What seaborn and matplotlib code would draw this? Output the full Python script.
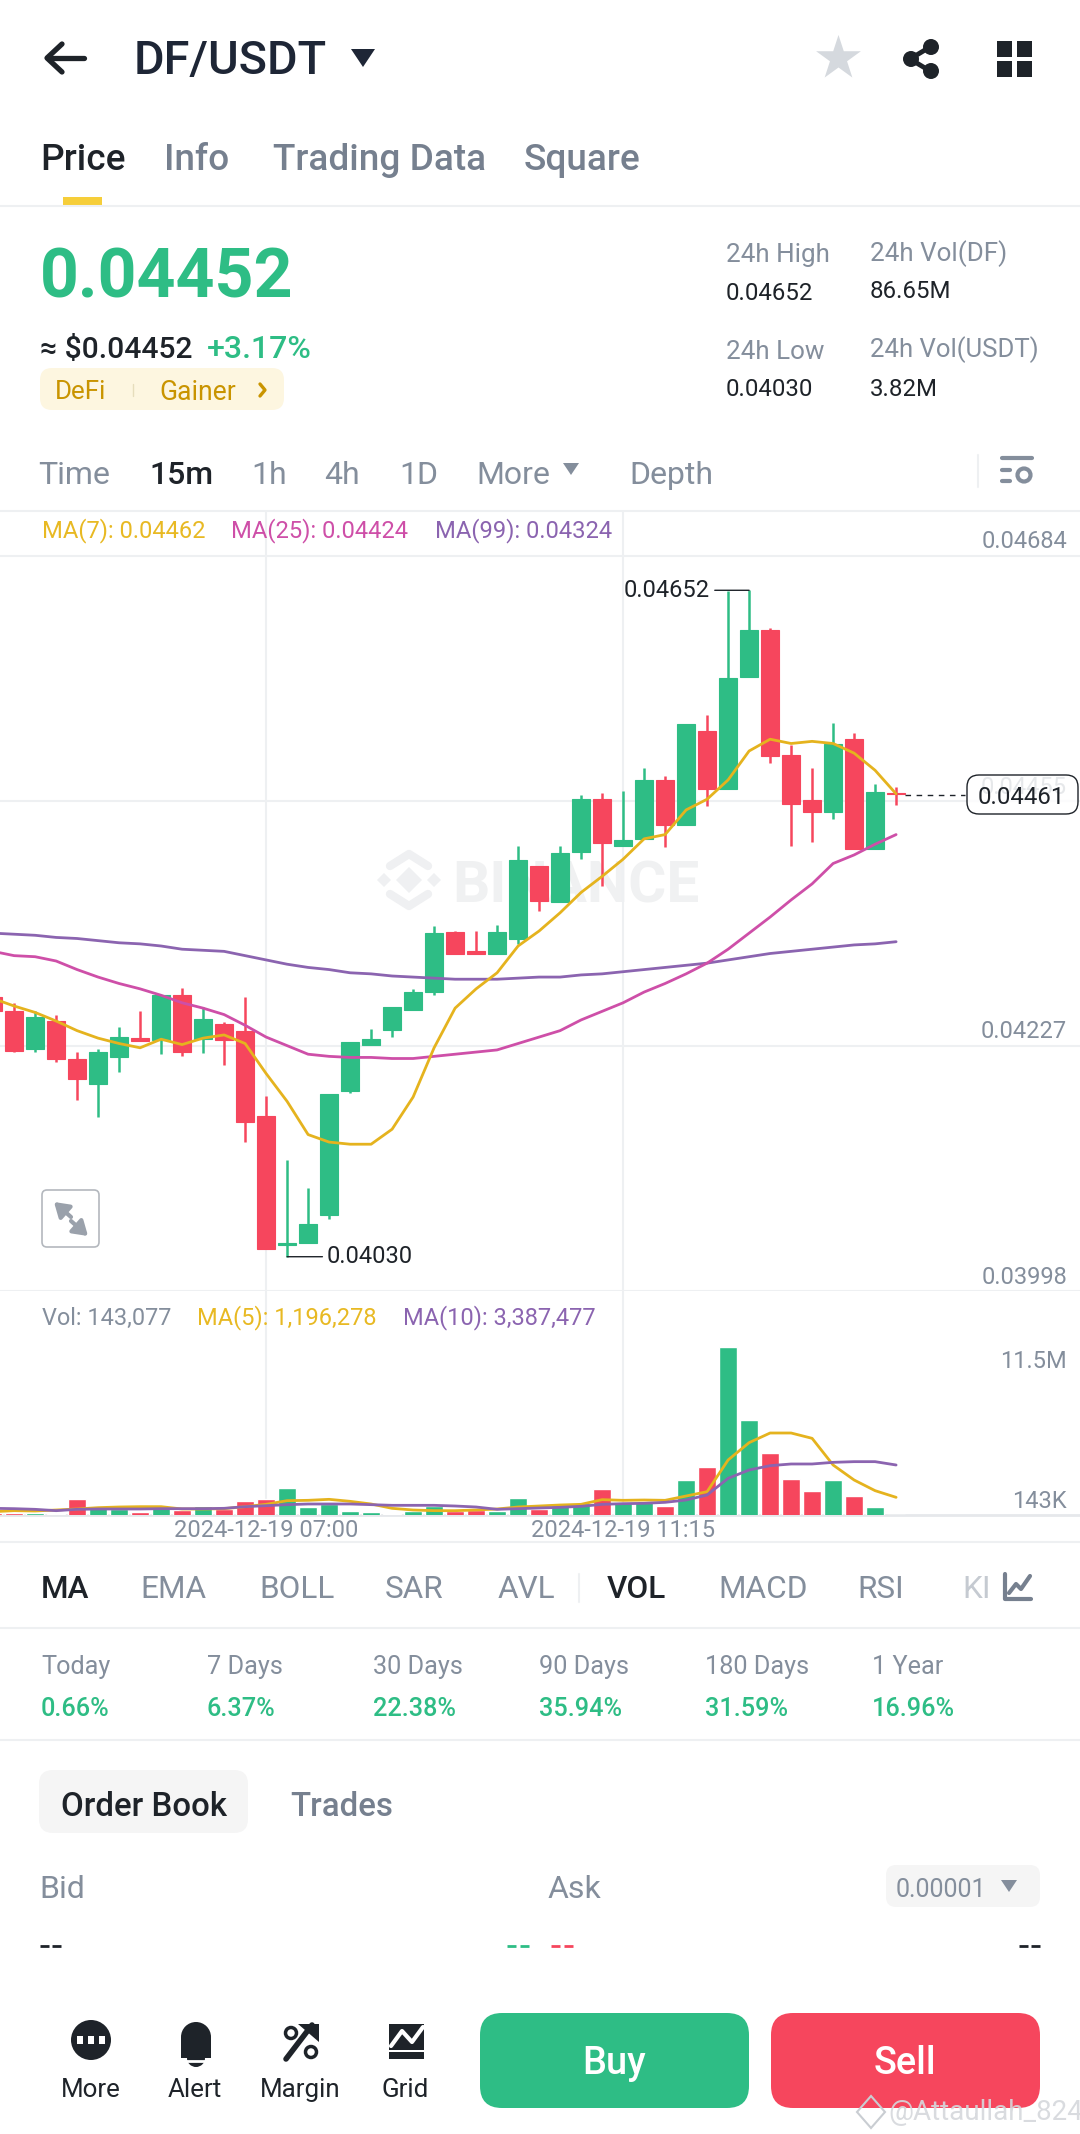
import numpy as np
import pandas as pd
import matplotlib
matplotlib.use("Agg")
import matplotlib.pyplot as plt
from matplotlib.patches import FancyBboxPatch, Polygon, Circle, Rectangle
import seaborn as sns

sns.set_theme(style="white")
plt.rcParams['font.family'] = ['Roboto', 'DejaVu Sans']

# candles, 15m bars, the first one is cut off by the left edge
bars = list(range(-1, 43))
opens = [0.04272, 0.04259, 0.04224, 0.04250, 0.04215, 0.04191, 0.04216, 0.04234, 0.04232, 0.04274, 0.04233,
         0.04247, 0.04241, 0.04161, 0.04041, 0.04043, 0.04069, 0.04185, 0.04228, 0.04242, 0.04260, 0.04277,
         0.04333, 0.04315, 0.04313, 0.04327, 0.04395, 0.04361, 0.04408, 0.04457, 0.04413, 0.04420, 0.04475,
         0.04433, 0.04521, 0.04467, 0.04571, 0.04615, 0.04498, 0.04456, 0.04445, 0.04513, 0.04411, 0.04463]
closes = [0.04259, 0.04222, 0.04254, 0.04215, 0.04196, 0.04221, 0.04235, 0.04231, 0.04274, 0.04221, 0.04252,
          0.04232, 0.04156, 0.04037, 0.04043, 0.04061, 0.04182, 0.04230, 0.04233, 0.04263, 0.04277, 0.04332,
          0.04313, 0.04313, 0.04333, 0.04400, 0.04362, 0.04407, 0.04457, 0.04416, 0.04419, 0.04475, 0.04433,
          0.04527, 0.04467, 0.04570, 0.04615, 0.04497, 0.04453, 0.04445, 0.04509, 0.04411, 0.04464, 0.04462]
highs = [0.04272, 0.04267, 0.04259, 0.04256, 0.04221, 0.04224, 0.04244, 0.04259, 0.04274, 0.04281, 0.04263,
         0.04249, 0.04272, 0.04180, 0.04120, 0.04094, 0.04182, 0.04230, 0.04243, 0.04263, 0.04280, 0.04339,
         0.04334, 0.04334, 0.04340, 0.04413, 0.04395, 0.04413, 0.04461, 0.04463, 0.04465, 0.04486, 0.04479,
         0.04527, 0.04536, 0.04651, 0.04652, 0.04617, 0.04508, 0.04486, 0.04528, 0.04519, 0.04471, 0.04468]
lows = [0.04259, 0.04221, 0.04221, 0.04212, 0.04176, 0.04160, 0.04202, 0.04231, 0.04219, 0.04217, 0.04220,
        0.04209, 0.04137, 0.04037, 0.04030, 0.04043, 0.04065, 0.04183, 0.04228, 0.04235, 0.04260, 0.04274,
        0.04313, 0.04313, 0.04313, 0.04322, 0.04353, 0.04361, 0.04401, 0.04376, 0.04413, 0.04420, 0.04412,
        0.04433, 0.04451, 0.04467, 0.04571, 0.04491, 0.04413, 0.04417, 0.04439, 0.04411, 0.04411, 0.04452]

ma7 = [0.04271, 0.04264, 0.04258, 0.04250, 0.04241, 0.04234, 0.04229, 0.04225, 0.04233, 0.04228, 0.04234,
       0.04237, 0.04229, 0.04201, 0.04175, 0.04144, 0.04137, 0.04135, 0.04135, 0.04149, 0.04179, 0.04225,
       0.04262, 0.04280, 0.04295, 0.04320, 0.04334, 0.04351, 0.04370, 0.04385, 0.04401, 0.04420, 0.04424,
       0.04447, 0.04457, 0.04475, 0.04502, 0.04513, 0.04509, 0.04511, 0.04509, 0.04500, 0.04484, 0.04462]
ma25 = [0.04315, 0.04311, 0.04310, 0.04306, 0.04298, 0.04291, 0.04285, 0.04280, 0.04274, 0.04267, 0.04262,
        0.04256, 0.04246, 0.04235, 0.04227, 0.04219, 0.04217, 0.04216, 0.04216, 0.04215, 0.04215, 0.04217,
        0.04219, 0.04221, 0.04223, 0.04229, 0.04235, 0.04241, 0.04251, 0.04259, 0.04267, 0.04277, 0.04285,
        0.04294, 0.04304, 0.04317, 0.04332, 0.04347, 0.04363, 0.04378, 0.04397, 0.04405, 0.04415, 0.04424]
ma99 = [0.04332, 0.04331, 0.04330, 0.04328, 0.04327, 0.04325, 0.04323, 0.04322, 0.04320, 0.04317, 0.04316,
        0.04315, 0.04311, 0.04307, 0.04303, 0.04300, 0.04298, 0.04295, 0.04294, 0.04292, 0.04291, 0.04290,
        0.04289, 0.04289, 0.04289, 0.04290, 0.04291, 0.04291, 0.04293, 0.04294, 0.04296, 0.04298, 0.04300,
        0.04302, 0.04304, 0.04307, 0.04310, 0.04313, 0.04315, 0.04317, 0.04319, 0.04321, 0.04322, 0.04324]

volume = [255000, 256000, 301000, 188000, 1225000, 751000, 526000, 368000, 594000, 481000, 751000,
          526000, 1089000, 1247000, 1946000, 706000, 887000, 391000, 346000, 188000, 391000, 751000,
          436000, 481000, 391000, 1292000, 571000, 842000, 932000, 1923000, 932000, 1022000, 751000,
          2487000, 3388000, 11500000, 6565000, 4312000, 2577000, 1788000, 2487000, 1427000, 661000, 143077]
vol_ma5 = [368000, 436000, 413000, 481000, 549000, 639000, 684000, 706000, 706000, 549000, 549000,
           571000, 706000, 864000, 1112000, 1135000, 1202000, 1067000, 887000, 594000, 481000, 436000,
           436000, 481000, 549000, 684000, 751000, 819000, 864000, 1180000, 1135000, 1157000, 1135000,
           1427000, 1720000, 3861000, 5033000, 5686000, 5686000, 5326000, 3523000, 2509000, 1788000, 1337000]
vol_ma10 = [594000, 571000, 526000, 436000, 526000, 549000, 549000, 549000, 571000, 571000, 571000,
            594000, 706000, 774000, 842000, 887000, 887000, 887000, 842000, 797000, 797000, 797000,
            751000, 684000, 526000, 571000, 616000, 661000, 729000, 864000, 909000, 932000, 999000,
            1157000, 1495000, 2622000, 3185000, 3478000, 3591000, 3591000, 3703000, 3749000, 3749000, 3523000]

price_ticks = [0.04684, 0.04455, 0.04227, 0.03998]
price_labels = ["0.04684", "0.04455", "0.04227", "0.03998"]
time_ticks = [12, 29]
time_labels = ["2024-12-19 07:00", "2024-12-19 11:15"]
return_periods = ["Today", "7 Days", "30 Days", "90 Days", "180 Days", "1 Year"]
return_values = ["0.66%", "6.37%", "22.38%", "35.94%", "31.59%", "16.96%"]
last_price = 0.04461

GREEN = "#2EBD85"
RED = "#F6465D"
DARK = "#1E2329"
GRAY = "#848E9C"
GRID = "#EEF0F2"
YEL = "#E8B923"
PINK = "#CE4FA8"
PURP = "#8B64B0"

W, H = 1080, 2134
fig = plt.figure(figsize=(W / 100, H / 100), dpi=100, facecolor="white")


def axes_px(top, bottom):
    return fig.add_axes([0, 1 - bottom / H, 1, (bottom - top) / H])


df = pd.DataFrame({"bar": bars, "open": opens, "close": closes, "high": highs, "low": lows,
                   "ma7": ma7, "ma25": ma25, "ma99": ma99,
                   "volume": volume, "vol_ma5": vol_ma5, "vol_ma10": vol_ma10})
df["dir"] = np.where(df["close"] >= df["open"], "up", "down")
colors = df["dir"].map({"up": GREEN, "down": RED})
xlim = (-0.671, 50.757)

# price panel
ax = axes_px(511, 1291)
ax.set_xlim(*xlim)
ax.set_ylim(0.03998, 0.04726)
ax.axis("off")
ax.text(0.419, 0.518, "BINANCE", transform=ax.transAxes, fontsize=42, fontweight="bold",
        color="#F0F1F2", ha="left", va="center", zorder=0.5)
for t, lab in zip(price_ticks, price_labels):
    ax.axhline(t, color=GRID, lw=1.5, zorder=1)
    ax.annotate(lab, xy=(1, t), xycoords=ax.get_yaxis_transform(), xytext=(-13, 14),
                textcoords="offset pixels", ha="right", va="center", fontsize=17,
                color=GRAY, annotation_clip=False, zorder=1)
for t in time_ticks:
    ax.axvline(t, color=GRID, lw=1.5, zorder=1)
ax.vlines(df["bar"], df["low"], df["high"], colors=colors, lw=1.8, zorder=3)
ax.bar(df["bar"], (df["close"] - df["open"]).abs(), bottom=df[["open", "close"]].min(axis=1),
       width=0.87, color=colors, edgecolor=colors, lw=0.8, zorder=3)
sns.lineplot(data=df, x="bar", y="ma99", color=PURP, lw=2, ax=ax, zorder=4)
sns.lineplot(data=df, x="bar", y="ma25", color=PINK, lw=2, ax=ax, zorder=4)
sns.lineplot(data=df, x="bar", y="ma7", color="#E5B31E", lw=2, ax=ax, zorder=4)
ax.set_xlim(*xlim)
ax.set_ylim(0.03998, 0.04726)
ax.axis("off")

# high / low markers and last price
ax.annotate("0.04652", xy=(35, max(highs)), xytext=(-39, 0), textcoords="offset pixels", ha="right",
            va="center", fontsize=17, color=DARK,
            arrowprops=dict(arrowstyle="-", color=DARK, lw=1, shrinkA=1, shrinkB=0), zorder=6)
ax.annotate("0.04030", xy=(13, min(lows)), xytext=(40, 0), textcoords="offset pixels", ha="left",
            va="center", fontsize=17, color=DARK,
            arrowprops=dict(arrowstyle="-", color=DARK, lw=1, shrinkA=1, shrinkB=0), zorder=6)
ax.hlines(last_price, 42.4, 45.3, colors=DARK, lw=1, linestyles=(0, (4, 4)), zorder=5)

# volume panel
axv = axes_px(1291, 1515)
sns.barplot(data=df, x="bar", y="volume", hue="dir", palette={"up": GREEN, "down": RED}, dodge=False,
            native_scale=True, width=0.87, legend=False, errorbar=None, saturation=1, ax=axv, zorder=3)
sns.lineplot(data=df, x="bar", y="vol_ma5", color="#E5B31E", lw=2, ax=axv, zorder=4)
sns.lineplot(data=df, x="bar", y="vol_ma10", color=PURP, lw=2, ax=axv, zorder=4)
axv.set_xlim(*xlim)
axv.set_ylim(143077, 15285000)
axv.set_xlabel("")
axv.set_ylabel("")
axv.set_yticks([])
axv.set_xticks(time_ticks, time_labels)
axv.tick_params(axis="x", length=0, pad=3, labelsize=17, labelcolor=GRAY)
for s in ["top", "left", "right"]:
    axv.spines[s].set_visible(False)
axv.spines["bottom"].set_color("#E6E8EB")
axv.spines["bottom"].set_linewidth(2)
axv.grid(axis="x", color=GRID, lw=1.5)
axv.set_axisbelow(True)
axv.patch.set_alpha(0)
axv.annotate("11.5M", xy=(1, 11500000), xycoords=axv.get_yaxis_transform(), xytext=(-13, -15),
             textcoords="offset pixels", ha="right", va="center", fontsize=17, color=GRAY)
axv.annotate("143K", xy=(1, 143077), xycoords=axv.get_yaxis_transform(), xytext=(-13, 14),
             textcoords="offset pixels", ha="right", va="center", fontsize=17, color=GRAY)

# everything around the chart, in screen pixels
ui = fig.add_axes([0, 0, 1, 1], zorder=10)
ui.set_xlim(0, W)
ui.set_ylim(H, 0)
ui.axis("off")
ui.patch.set_alpha(0)


def label(x, y, s, px, color=GRAY, weight="normal", ha="left"):
    ui.text(x - 1, y + 2, s, fontsize=px * 0.72, color=color, fontweight=weight, ha=ha, va="center")


def pill(x0, y0, x1, y1, fc, r=10, ec="none", lw=0):
    ui.add_patch(FancyBboxPatch((x0 + r, y0 + r), x1 - x0 - 2 * r, y1 - y0 - 2 * r,
                                boxstyle=f"round,pad={r},rounding_size={r}", fc=fc, ec=ec, lw=lw))


def caret(cx, cy, w, h, color):
    ui.add_patch(Polygon([(cx - w / 2, cy - h / 2), (cx + w / 2, cy - h / 2), (cx, cy + h / 2)], fc=color, ec="none"))


def hline(y, x0=0, x1=W, color=GRID, lw=1.5):
    ui.plot([x0, x1], [y, y], color=color, lw=lw, solid_capstyle="butt")


# header
ui.plot([50, 84], [58, 58], color=DARK, lw=3.8)
ui.plot([62, 47, 62], [44, 58, 72], color=DARK, lw=3.8)
label(135, 59, "DF/USDT", 47, "#1E2636", "medium")
caret(363, 58, 24, 18, "#1E2636")
ui.scatter([838], [58], marker="*", s=1150, color="#D5D9DE", lw=0)
ui.plot([930, 910, 930], [47, 59, 71], color=DARK, lw=3.5)
for cx, cy in [(931, 47), (911, 59), (931, 71)]:
    ui.add_patch(Circle((cx, cy), 8, fc=DARK, ec="none"))
for x0, y0 in [(997, 41), (1017, 41), (997, 61), (1017, 61)]:
    ui.add_patch(Rectangle((x0, y0), 15, 16, fc=DARK, ec="none"))

label(41, 158, "Price", 37, DARK, "medium")
label(165, 158, "Info", 37, "#76808F", "medium")
label(274, 158, "Trading Data", 37, "#76808F", "medium")
label(525, 158, "Square", 37, "#76808F", "medium")
ui.add_patch(Rectangle((63, 197), 39, 8, fc="#F6CE3A", ec="none"))
hline(206)

# price summary
label(41, 277, "0.04452", 68, GREEN, "bold")
label(41, 348, "≈ $0.04452", 30, DARK, "medium")
label(208, 348, "+3.17%", 32, GREEN, "medium")
pill(40, 368, 284, 410, "#FDF6E0", r=12)
label(56, 390, "DeFi", 26, "#C99400")
ui.plot([133, 133], [384, 396], color="#E6DDBC", lw=1)
label(160, 390, "Gainer", 26.5, "#C99400")
ui.plot([260, 265, 260], [384, 390, 396], color="#C99400", lw=2.4)
label(727, 253, "24h High", 26)
label(727, 291, "0.04652", 24, DARK)
label(871, 252, "24h Vol(DF)", 26)
label(871, 289, "86.65M", 24, DARK)
label(727, 350, "24h Low", 26)
label(727, 388, "0.04030", 24, DARK)
label(871, 348, "24h Vol(USDT)", 25.7)
label(871, 387, "3.82M", 24, DARK)

# interval row
for x, s in [(39, "Time"), (252, "1h"), (325, "4h"), (400, "1D"), (477, "More"), (630, "Depth")]:
    label(x, 473, s, 32)
label(150, 473, "15m", 32, DARK, "medium")
caret(571, 469, 16, 12, GRAY)
ui.plot([978, 978], [455, 487], color=GRID, lw=1.5)
ui.plot([1002, 1032], [458, 458], color=GRAY, lw=3)
ui.plot([1002, 1010], [470, 470], color=GRAY, lw=3)
ui.plot([1002, 1010], [481, 481], color=GRAY, lw=3)
ui.add_patch(Circle((1024, 475), 6.5, fc="white", ec=GRAY, lw=3))

hline(511)
label(43, 529, "MA(7): 0.04462", 23.7, YEL)
label(232, 529, "MA(25): 0.04424", 23.7, PINK)
label(436, 529, "MA(99): 0.04324", 23.7, PURP)

# last price tag, the axis label behind it shows through a little
pill(967, 775, 1078, 814, (1, 1, 1, 0.8), r=12, ec=DARK, lw=1)
label(1022, 795, "0.04461", 24, DARK, ha="center")

# watermark logo
for cx, cy, r in [(409, 880, 13), (384, 880, 7), (434, 880, 7)]:
    ui.add_patch(Polygon([(cx - r, cy), (cx, cy - r), (cx + r, cy), (cx, cy + r)], fc="#EFF0F2", ec="none", zorder=0))
ui.plot([390, 409, 428], [866, 854, 866], color="#EFF0F2", lw=6, zorder=0)
ui.plot([390, 409, 428], [894, 906, 894], color="#EFF0F2", lw=6, zorder=0)

# expand button
pill(42, 1190, 99, 1247, "white", r=5, ec="#B4B8BE", lw=1.2)
ui.annotate("", xy=(54, 1202), xytext=(71, 1217),
            arrowprops=dict(arrowstyle="-|>,head_length=0.7,head_width=0.45", color="#9AA1AB", lw=3, shrinkA=0, shrinkB=0))
ui.annotate("", xy=(88, 1236), xytext=(71, 1221),
            arrowprops=dict(arrowstyle="-|>,head_length=0.7,head_width=0.45", color="#9AA1AB", lw=3, shrinkA=0, shrinkB=0))

label(43, 1316, "Vol: 143,077", 23.5)
label(198, 1316, "MA(5): 1,196,278", 23.6, YEL)
label(404, 1316, "MA(10): 3,387,477", 23.6, PURP)

# indicator row
hline(1542)
for x, s in [(141, "EMA"), (260, "BOLL"), (386, "SAR"), (499, "AVL"), (719, "MACD"), (858, "RSI")]:
    label(x, 1588, s, 31.5)
label(963, 1588, "KI", 31.5, "#C5CAD1")
label(42, 1588, "MA", 31.5, DARK, "medium")
label(608, 1588, "VOL", 31.5, DARK, "medium")
ui.plot([579, 579], [1574, 1602], color=GRID, lw=1.5)
ui.plot([1005, 1005, 1031], [1574, 1599, 1599], color="#76808F", lw=3)
ui.plot([1009, 1016, 1021, 1030], [1593, 1584, 1589, 1576], color="#76808F", lw=3)
hline(1628)

# returns
for x, p, v in zip([42, 208, 374, 540, 706, 873], return_periods, return_values):
    label(x, 1665, p, 25.3)
    label(x, 1707, v, 25.3, GREEN, "medium")
hline(1740)

# order book
pill(39, 1770, 248, 1833, "#F5F5F5", r=14)
label(62, 1805, "Order Book", 33, DARK, "medium")
label(291, 1805, "Trades", 33, "#76808F", "medium")
label(40, 1888, "Bid", 32)
label(549, 1888, "Ask", 32)
pill(886, 1865, 1040, 1907, "#F5F5F5", r=10)
label(897, 1888, "0.00001", 25)
caret(1009, 1886, 16, 12, GRAY)
for x0, x1, c in [(40, 61, DARK), (507, 529, GREEN), (551, 573, RED), (1019, 1040, DARK)]:
    ui.plot([x0, x0 + (x1 - x0) * 0.42], [1946, 1946], color=c, lw=2, solid_capstyle="butt")
    ui.plot([x0 + (x1 - x0) * 0.58, x1], [1946, 1946], color=c, lw=2, solid_capstyle="butt")

# bottom bar
ui.add_patch(Circle((91, 2040), 20, fc=DARK, ec="none"))
for x in [80, 91, 102]:
    ui.add_patch(Rectangle((x - 3, 2036), 6, 8, fc="white", ec="none"))
ui.add_patch(Circle((196, 2037), 15, fc=DARK, ec="none"))
ui.add_patch(Rectangle((181, 2037), 30, 21, fc=DARK, ec="none"))
ui.add_patch(Circle((196, 2058), 9, fc=DARK, ec="none"))
ui.plot([180, 212], [2061, 2061], color="white", lw=2)
ui.plot([286, 312], [2059, 2025], color=DARK, lw=4)
ui.add_patch(Polygon([(298, 2024), (319, 2024), (319, 2042)], fc=DARK, ec="none"))
ui.add_patch(Circle((291, 2033), 5.5, fc="white", ec=DARK, lw=2.5))
ui.add_patch(Circle((311, 2052), 5.5, fc="white", ec=DARK, lw=2.5))
ui.add_patch(Rectangle((389, 2024), 35, 26, fc=DARK, ec="none"))
ui.plot([391, 402, 412, 423], [2046, 2031, 2042, 2027], color="white", lw=3)
ui.add_patch(Rectangle((389, 2052), 35, 7, fc=DARK, ec="none"))
for x, s in [(92, "More"), (196, "Alert"), (301, "Margin"), (406, "Grid")]:
    label(x, 2088, s, 26, DARK, ha="center")
pill(480, 2013, 749, 2108, GREEN, r=22)
pill(771, 2013, 1040, 2108, RED, r=22)
label(615, 2062, "Buy", 38, "white", "medium", "center")
label(906, 2062, "Sell", 38, "white", "medium", "center")
ui.text(888, 2112, "@Attaullah_824", fontsize=20, color="#D5D8DC", alpha=0.9, ha="left", va="center")
ui.add_patch(Polygon([(871, 2096), (885, 2112), (871, 2128), (857, 2112)], fc="none", ec="#C9CDD2", lw=1.5))

fig.savefig("out.png", dpi=100, facecolor="white")
